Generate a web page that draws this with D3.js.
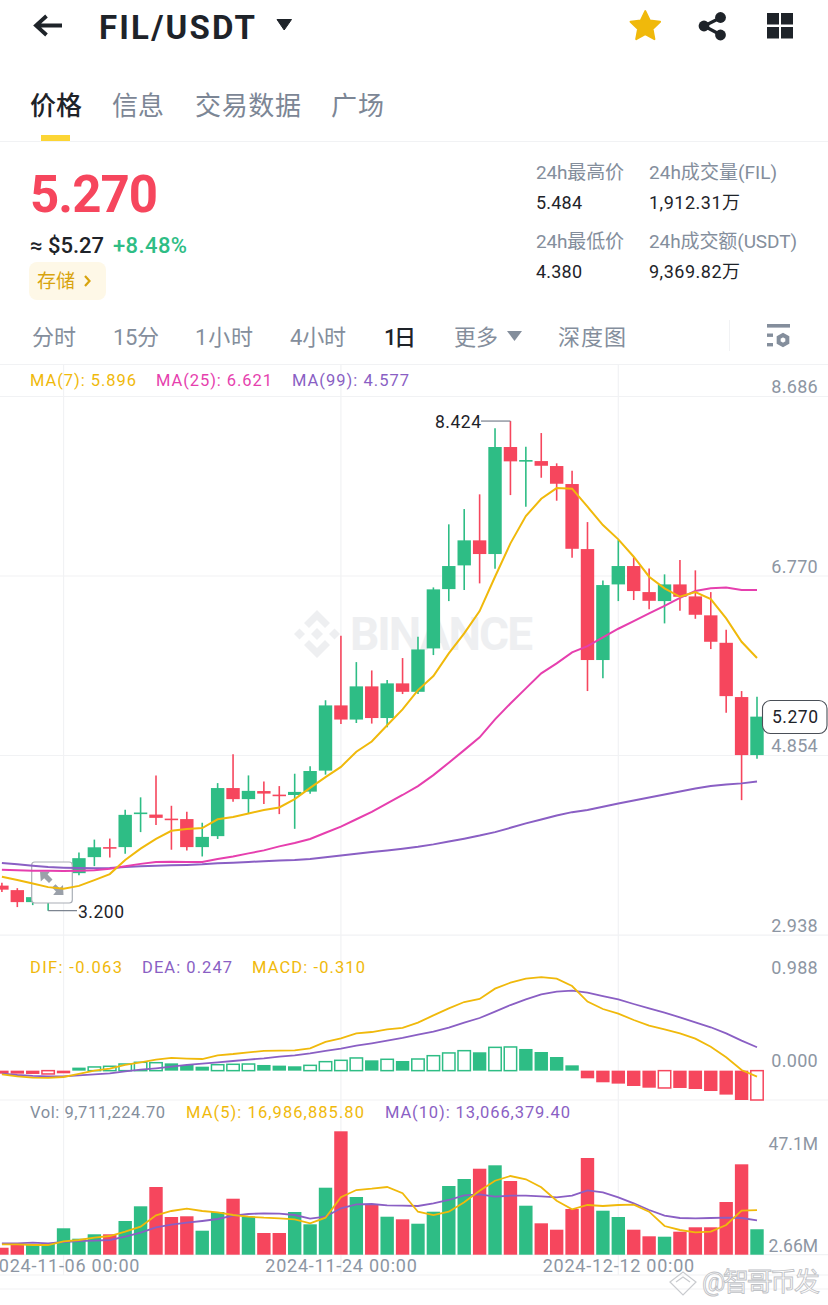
<!DOCTYPE html>
<html><head><meta charset="utf-8">
<script src="https://cdn.jsdelivr.net/npm/d3@7/dist/d3.min.js"></script>
<style>html,body{margin:0;padding:0;background:#fff}svg{display:block}text{font-family:Roboto,"Noto Sans CJK SC",sans-serif}</style>
</head><body><div id="c"></div><script>
const startDate="2024-11-02";
const open=[3.467,3.419,3.291,3.323,3.387,3.600,3.771,3.878,3.878,4.232,4.225,4.182,4.177,3.878,3.995,4.508,4.390,4.476,4.438,4.434,4.470,4.694,5.390,5.239,5.593,5.255,5.625,5.535,5.998,6.631,6.884,7.151,7.005,8.147,7.994,7.997,7.944,7.752,7.058,5.874,6.681,6.877,6.599,6.503,6.681,6.553,6.351,6.058,5.479,4.860];
const high=[3.497,3.440,3.366,3.430,3.675,3.821,3.958,3.969,4.276,4.409,4.643,4.319,4.254,4.138,4.561,4.870,4.643,4.579,4.529,4.661,4.742,5.445,6.134,5.852,5.763,5.660,5.895,6.122,6.649,7.322,7.485,7.642,8.346,8.424,8.150,8.296,7.973,7.894,7.346,6.724,7.154,6.970,6.852,6.788,6.941,6.831,6.599,6.197,5.543,5.482];
const low=[3.398,3.238,3.259,3.200,3.344,3.579,3.675,3.767,3.806,4.038,4.113,3.850,3.843,3.778,3.965,4.362,4.241,4.337,4.230,4.073,4.446,4.651,5.192,5.202,5.196,5.156,5.511,5.511,5.927,6.503,6.621,6.692,6.848,7.634,7.510,7.819,7.574,6.965,5.543,5.681,6.503,6.514,6.415,6.265,6.400,6.314,5.991,5.311,4.379,4.820];
const close=[3.424,3.291,3.344,3.387,3.611,3.760,3.876,3.861,4.222,4.247,4.190,4.166,3.878,3.987,4.508,4.390,4.478,4.449,4.423,4.467,4.690,5.390,5.239,5.593,5.255,5.625,5.535,5.987,6.628,6.877,7.151,7.005,8.147,7.994,8.008,7.947,7.755,7.061,5.874,6.674,6.877,6.610,6.506,6.681,6.549,6.357,6.069,5.489,4.860,5.270];
const ma7=[3.561,3.526,3.489,3.451,3.435,3.464,3.526,3.590,3.741,3.861,3.965,4.052,4.070,4.081,4.175,4.200,4.237,4.273,4.301,4.390,4.510,4.625,4.734,4.896,5.005,5.178,5.347,5.553,5.703,5.945,6.158,6.396,6.763,7.119,7.410,7.595,7.709,7.702,7.510,7.314,7.162,6.976,6.763,6.639,6.549,6.599,6.525,6.319,6.069,5.896];
const ma25=[3.637,3.632,3.626,3.626,3.622,3.626,3.632,3.647,3.673,3.699,3.718,3.723,3.720,3.718,3.750,3.778,3.811,3.843,3.886,3.922,3.965,4.031,4.096,4.175,4.254,4.344,4.434,4.529,4.646,4.778,4.913,5.049,5.241,5.411,5.572,5.732,5.838,5.956,6.023,6.116,6.208,6.290,6.372,6.453,6.538,6.610,6.639,6.649,6.621,6.621];
const ma99=[3.709,3.694,3.680,3.666,3.659,3.655,3.652,3.655,3.666,3.673,3.680,3.684,3.688,3.694,3.706,3.712,3.720,3.727,3.735,3.741,3.752,3.771,3.788,3.806,3.825,3.843,3.861,3.882,3.907,3.937,3.968,4.001,4.038,4.084,4.131,4.173,4.216,4.251,4.273,4.308,4.344,4.376,4.408,4.440,4.472,4.504,4.529,4.547,4.558,4.577];
const dif=[-.039,-.060,-.074,-.077,-.067,-.035,0,.021,.060,.088,.116,.134,.127,.123,.162,.176,.194,.208,.211,.215,.236,.303,.341,.394,.408,.436,.451,.507,.584,.658,.725,.757,.866,.929,.972,.988,.972,.894,.729,.651,.602,.535,.475,.436,.394,.338,.253,.141,.007,-.063];
const dea=[-.032,-.046,-.056,-.060,-.060,-.049,-.039,-.028,-.007,.011,.025,.042,.060,.074,.088,.102,.116,.130,.148,.162,.183,.208,.232,.264,.289,.317,.345,.380,.412,.454,.507,.556,.623,.693,.753,.806,.834,.845,.824,.788,.753,.704,.658,.612,.563,.510,.458,.394,.317,.247];
const macd=[-.032,-.032,-.035,-.035,-.028,.032,.039,.046,.070,.088,.084,.077,.060,.042,.063,.067,.070,.060,.053,.046,.056,.095,.109,.134,.109,.120,.102,.123,.158,.187,.211,.194,.246,.250,.229,.197,.144,.056,-.081,-.123,-.137,-.162,-.180,-.183,-.183,-.194,-.215,-.253,-.310,-.310];
const macdHollow=[3,6,7,8,9,10,14,15,16,20,21,22,23,25,27,28,29,30,32,33,43,49];
const volume=[2.66,4.08,3.97,4.35,10.08,6.11,7.79,7.79,12.86,18.47,25.84,14.39,14.66,9.16,16.30,21.37,14.50,8.28,8.28,16.30,11.60,25.57,47.10,22.02,19.35,14.50,13.51,11.83,16.41,26.22,28.89,32.82,34.12,28.13,18.70,11.98,9.54,17.44,36.91,16.79,14.39,9.54,7.02,6.87,8.78,10.46,10.46,20.11,34.50,9.71];
const volMa5=[3.97,3.97,3.70,3.70,5.11,5.61,6.49,7.14,8.78,10.69,15.04,16.68,17.56,16.68,16.18,15.15,14.50,14.12,13.89,13.51,11.98,14.12,21.91,24.69,25.19,25.84,23.44,16.41,15.15,16.41,20.00,24.43,28.24,30.04,28.78,25.73,20.61,17.33,18.97,18.59,18.97,19.08,16.41,10.95,9.43,8.55,8.78,11.34,16.79,16.99];
const volMa10=[4.35,4.35,4.58,4.35,4.85,5.23,5.34,5.61,6.87,8.40,10.46,11.45,12.21,12.86,13.63,14.89,15.53,15.80,15.65,15.15,13.74,14.50,17.71,19.24,19.35,18.85,18.70,18.59,19.62,20.88,22.67,23.05,22.14,22.52,22.52,22.29,21.91,22.52,24.58,23.82,21.91,19.62,17.06,14.89,14.01,13.89,14.01,14.12,14.01,13.07];
const priceTicks=[8.686,6.770,4.854,2.938];
const macdLabels=[0.988,0];
const volLabels=[47.1,2.66];
const dateTicks=["2024-11-06","2024-11-24","2024-12-12"];
const tabs=["价格","信息","交易数据","广场"];
const periods=["分时","15分","1小时","4小时","1日","更多","深度图"];

const G="#2ebd85",R="#f6465d",GOLD="#f0b90b",PINK="#e63fae",PUR="#8a5fc4",GRAY="#848e9c",DARK="#1e2329",GRID="#f1f2f4";
const svg=d3.select("#c").append("svg").attr("width",828).attr("height",1305).attr("viewBox","0 0 828 1305");
function T(x,y,s,size,col,opt={}){
  const t=svg.append("text").attr("x",x).attr("y",y).attr("font-size",size).attr("fill",col).text(s);
  if(opt.w)t.attr("textLength",opt.w).attr("lengthAdjust","spacing");
  if(opt.weight)t.attr("font-weight",opt.weight);
  if(opt.anchor)t.attr("text-anchor",opt.anchor);
  return t;
}
const parse=d3.utcParse("%Y-%m-%d"),day=86400000;
const t0=parse(startDate);
const dates=open.map((d,i)=>new Date(+t0+i*day));
const x=d3.scaleUtc().domain([dates[0],dates[49]]).range([1.9,757]);
const yP=d3.scaleLinear().domain([2.938,8.686]).range([935.2,396.5]);
const yM=d3.scaleLinear().domain([-.31,.988]).range([1100,977.1]);
const yV=d3.scaleLinear().domain([0,47.1]).range([1254.7,1131.3]);

/* header */
svg.append("path").attr("d","M62 25.5H37M46.5 16L36 25.5L46.5 35").attr("fill","none").attr("stroke",DARK).attr("stroke-width",3.8);
T(99,38.5,"FIL/USDT",33,DARK,{weight:700,w:156});
svg.append("path").attr("d","M277 19.5H291.5L284.2 30Z").attr("fill",DARK).attr("stroke",DARK).attr("stroke-linejoin","round").attr("stroke-width",1);
const star=d3.range(10).map(i=>{const r=i%2?7.6:15.5,a=-Math.PI/2+i*Math.PI/5;return [645.3+r*Math.cos(a),26.6+r*Math.sin(a)];});
svg.append("path").attr("d",d3.line()(star)+"Z").attr("fill",GOLD).attr("stroke",GOLD).attr("stroke-width",2).attr("stroke-linejoin","round");
svg.append("path").attr("d","M721 17.5L704 26L721 35").attr("fill","none").attr("stroke",DARK).attr("stroke-width",3.2);
[[704,26],[720.5,17.5],[720.5,35]].forEach(c=>svg.append("circle").attr("cx",c[0]).attr("cy",c[1]).attr("r",5.4).attr("fill",DARK));
[[767,13],[781,13],[767,27],[781,27]].forEach(c=>svg.append("rect").attr("x",c[0]).attr("y",c[1]).attr("width",12).attr("height",11.5).attr("fill",DARK));
const tabX=[30,112,195,331],tabW=[52,52,106,53];
tabs.forEach((s,i)=>T(tabX[i],115,s,26,i?"#7c8695":DARK,{w:tabW[i],weight:i?400:500}));
svg.append("rect").attr("x",41).attr("y",135).attr("width",29).attr("height",6).attr("fill","#fcd535");
svg.append("line").attr("x1",0).attr("x2",828).attr("y1",141.5).attr("y2",141.5).attr("stroke",GRID);
T(30,212,"5.270",51,R,{weight:700,w:128});
T(30,253,"≈ $5.27",22,DARK,{weight:500,w:74});
T(113,253,"+8.48%",22,G,{weight:500,w:74});
svg.append("rect").attr("x",29).attr("y",262).attr("width",77).attr("height",38).attr("rx",8).attr("fill","#fef8e7");
T(37,288,"存储",19,"#d8a40e",{w:38});
svg.append("path").attr("d","M85 276L89.5 281L85 286").attr("fill","none").attr("stroke","#d8a40e").attr("stroke-width",2.2);
const sBy=[[536,179,"24h最高价",19,GRAY,88],[649,179,"24h成交量(FIL)",19,GRAY,128],[536,209,"5.484",18,DARK,46],[649,209,"1,912.31万",18,DARK,91],
 [536,248,"24h最低价",19,GRAY,88],[649,248,"24h成交额(USDT)",19,GRAY,148],[536,278,"4.380",18,DARK,46],[649,278,"9,369.82万",18,DARK,91]];
sBy.forEach(a=>T(a[0],a[1],a[2],a[3],a[4],{w:a[5]}));
const perX=[32,113,195,290,384,454,558],perW=[44,46,58,56,32,44,68];
periods.forEach((s,i)=>T(perX[i],345,s,22,i==4?DARK:"#848e9c",{w:perW[i],weight:i==4?500:400}));
svg.append("path").attr("d","M507 331H522L514.5 341Z").attr("fill",GRAY);
svg.append("line").attr("x1",729.5).attr("x2",729.5).attr("y1",320).attr("y2",351).attr("stroke",GRID);
svg.append("rect").attr("x",767).attr("y",324).attr("width",23).attr("height",3.6).attr("fill",GRAY);
svg.append("rect").attr("x",767).attr("y",333.5).attr("width",6).attr("height",3.4).attr("fill",GRAY);
svg.append("rect").attr("x",767).attr("y",343).attr("width",6).attr("height",3.4).attr("fill",GRAY);
const hex=d3.range(6).map(i=>{const a=Math.PI/6+i*Math.PI/3;return [783+5*Math.cos(a),340+5*Math.sin(a)];});
svg.append("path").attr("d",d3.line()(hex)+"Z").attr("fill","none").attr("stroke",GRAY).attr("stroke-width",4);

/* watermark */
svg.append("g").attr("transform","translate(317,634)").attr("fill","#eeeff1").selectAll("path")
 .data(["M0 -24L13 -11L8 -6L0 -14L-8 -6L-13 -11Z","M0 24L13 11L8 6L0 14L-8 6L-13 11Z","M-23 0L-17.5 -5.5L-12 0L-17.5 5.5Z","M23 0L17.5 -5.5L12 0L17.5 5.5Z","M0 -6L6 0L0 6L-6 0Z"])
 .join("path").attr("d",d=>d);
T(350,650,"BINANCE",46,"#eeeff1",{weight:700,w:183});

/* grid */
const g=svg.append("g").attr("stroke",GRID).attr("stroke-width",1.2);
[364.5,396.5,576,755.5,935.2,1100,1254.7,1275,1289].forEach(y=>g.append("line").attr("x1",0).attr("x2",828).attr("y1",y).attr("y2",y));
const tickD=dateTicks.map(parse);
tickD.forEach(d=>g.append("line").attr("x1",x(d)).attr("x2",x(d)).attr("y1",364.5).attr("y2",1275));

/* candles */
const bw=13.4;
const col=i=>close[i]>=open[i]?G:R;
const idx=d3.range(open.length);
svg.append("g").selectAll("line").data(idx).join("line")
 .attr("x1",i=>x(dates[i])).attr("x2",i=>x(dates[i])).attr("y1",i=>yP(high[i])).attr("y2",i=>yP(low[i])).attr("stroke",col).attr("stroke-width",1.6);
svg.append("g").selectAll("rect").data(idx).join("rect")
 .attr("x",i=>x(dates[i])-bw/2).attr("width",bw)
 .attr("y",i=>yP(Math.max(open[i],close[i])))
 .attr("height",i=>Math.max(1.6,Math.abs(yP(open[i])-yP(close[i])))).attr("fill",col);

/* small expand icon */
svg.append("rect").attr("x",31.7).attr("y",862).attr("width",40.6).attr("height",41).attr("rx",3).attr("fill","#fff").attr("stroke","#a9aeb6").attr("stroke-width",1.2);
svg.append("path").attr("d","M40 871.5H50L47.6 874.6L52.5 879.5L49 883L44.2 878.2L40.8 881.5Z").attr("fill","#9aa0a9");
svg.append("path").attr("d","M63.5 895H53.2L56 891.6L52 887.5L55.5 884.2L59.6 888.2L63 885Z").attr("fill","#9aa0a9");

/* price MA */
const lp=(s,arr)=>d3.line().x((d,i)=>x(dates[i])).y(d=>s(d))(arr);
[[ma99,PUR],[ma25,PINK],[ma7,GOLD]].forEach(a=>svg.append("path").attr("d",lp(yP,a[0])).attr("fill","none").attr("stroke",a[1]).attr("stroke-width",2));

/* labels on price panel */
const ax=s=>svg.append("g").attr("transform","translate(818,0)").call(s).call(g=>{g.select(".domain").remove();g.selectAll("line").remove();
 g.selectAll("text").attr("x",0).attr("dy",0).attr("text-anchor","end").attr("font-size",18).attr("fill","#8d96a3").attr("font-family",'Roboto').attr("letter-spacing",.3);});
ax(d3.axisRight(yP).tickValues(priceTicks).tickFormat(d3.format(".3f"))).selectAll("text").attr("transform","translate(0,-4)");
const mAx=ax(d3.axisRight(yM).tickValues(macdLabels).tickFormat(d3.format(".3f")));
mAx.selectAll("text").attr("transform","translate(0,-4)");
svg.append("g").attr("transform","translate(818,0)").call(d3.axisRight(d3.scalePoint().domain(volLabels.map(d=>d+"M")).range([1143,1245])).tickSize(0))
 .call(g=>{g.select(".domain").remove();g.selectAll("text").attr("x",0).attr("dy",6).attr("text-anchor","end").attr("font-size",17.5).attr("fill","#8d96a3").attr("font-family","Roboto");});

svg.append("line").attr("x1",481).attr("x2",x(dates[33])).attr("y1",yP(8.424)).attr("y2",yP(8.424)).attr("stroke","#777f8c").attr("stroke-width",1.2);
T(435,428,"8.424",17.5,DARK,{w:46});
svg.append("line").attr("x1",x(dates[3])).attr("x2",77).attr("y1",yP(3.2)).attr("y2",yP(3.2)).attr("stroke","#777f8c").attr("stroke-width",1.2);
T(78,918,"3.200",17.5,DARK,{w:46});
svg.append("rect").attr("x",762.5).attr("y",700.5).attr("width",64.5).attr("height",33).attr("rx",8).attr("fill","#fff").attr("stroke","#4a4f57").attr("stroke-width",1.1);
T(772,723,"5.270",17.5,DARK,{w:46});

const leg=[[30,386,"MA(7): 5.896",GOLD,106],[156,386,"MA(25): 6.621",PINK,116],[292,386,"MA(99): 4.577",PUR,117],
 [30,973,"DIF: -0.063",GOLD,92],[142,973,"DEA: 0.247",PUR,90],[252,973,"MACD: -0.310",GOLD,113],
 [30,1118,"Vol: 9,711,224.70",GRAY,135],[186,1118,"MA(5): 16,986,885.80",GOLD,178],[385,1118,"MA(10): 13,066,379.40",PUR,185]];
leg.forEach(a=>T(a[0],a[1],a[2],16.5,a[3],{w:a[4]}));

/* MACD */
const holl=new Set(macdHollow);
svg.append("g").selectAll("rect").data(idx).join("rect")
 .attr("x",i=>x(dates[i])-bw/2+(holl.has(i)?.5:0)).attr("width",i=>bw-(holl.has(i)?1:0))
 .attr("y",i=>yM(Math.max(0,macd[i]))).attr("height",i=>Math.abs(yM(macd[i])-yM(0)))
 .attr("fill",i=>holl.has(i)?"#fff":(macd[i]>=0?G:R))
 .attr("stroke",i=>holl.has(i)?(macd[i]>=0?G:R):"none").attr("stroke-width",1.5);
[[dea,PUR],[dif,GOLD]].forEach(a=>svg.append("path").attr("d",lp(yM,a[0])).attr("fill","none").attr("stroke",a[1]).attr("stroke-width",1.8));

/* volume */
svg.append("g").selectAll("rect").data(idx).join("rect")
 .attr("x",i=>x(dates[i])-bw/2).attr("width",bw)
 .attr("y",i=>yV(volume[i])).attr("height",i=>yV(0)-yV(volume[i])).attr("fill",col);
[[volMa10,PUR],[volMa5,GOLD]].forEach(a=>svg.append("path").attr("d",lp(yV,a[0])).attr("fill","none").attr("stroke",a[1]).attr("stroke-width",1.8));

/* date axis */
svg.append("g").attr("transform","translate(0,1257)").call(d3.axisBottom(x).tickValues(tickD).tickSize(0).tickFormat(d3.utcFormat("%Y-%m-%d %H:%M")))
 .call(g=>{g.select(".domain").remove();g.selectAll("text").attr("font-size",18).attr("fill","#8d96a3").attr("font-family","Roboto").attr("y",0).attr("dy",15).attr("letter-spacing",.75);});

/* bottom right stamp */
svg.append("g").attr("fill","none").attr("stroke","#c9cbcf").attr("stroke-width",1.2).call(g=>{
 g.append("path").attr("d","M670 1282L683 1272L696 1282L683 1295Z");
 g.append("path").attr("d","M676 1282L683 1277L690 1282");
});
T(702,1291,"@智哥币发",26,"#fff",{w:118}).attr("stroke","#bfc2c6").attr("stroke-width",.9);
</script></body></html>
